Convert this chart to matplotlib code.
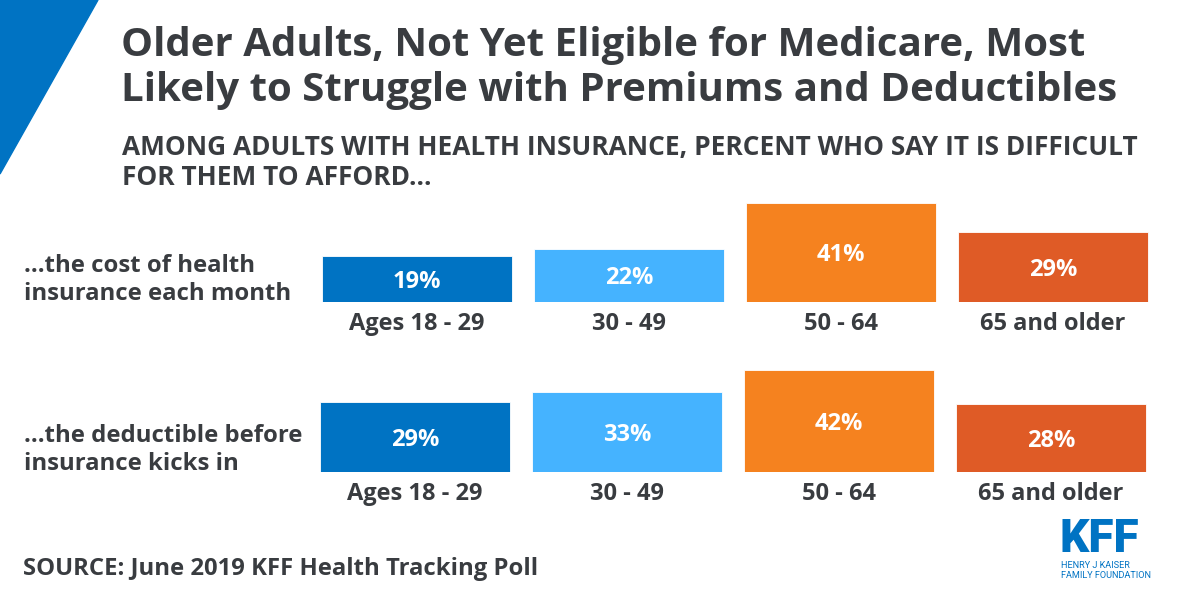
import matplotlib.pyplot as plt
from matplotlib.patches import Polygon

plt.rcParams['font.family'] = ['Open Sans', 'DejaVu Sans']

# data
groups = ['Ages 18 - 29', '30 - 49', '50 - 64', '65 and older']
items = ['...the cost of health\ninsurance each month',
         '...the deductible before\ninsurance kicks in']
monthly_cost = [19, 22, 41, 29]
deductible = [29, 33, 42, 28]
colors = ['#0073c3', '#45b3ff', '#f5821f', '#df5b26']
dark = '#393c40'

W, H = 1200, 601
fig = plt.figure(figsize=(12, 6.01), dpi=100)


def fx(px):
    return px / W


def fy(py):
    return 1 - py / H


# blue corner triangle
bg = fig.add_axes([0, 0, 1, 1])
bg.set_xlim(0, W)
bg.set_ylim(H, 0)
bg.axis('off')
bg.add_patch(Polygon([(0, 0), (98, 0), (0, 174)], closed=True, color='#0073c3'))

# title / subtitle
fig.text(fx(121), fy(56), 'Older Adults, Not Yet Eligible for Medicare, Most',
         fontsize=29, fontweight='bold', color=dark, va='baseline')
fig.text(fx(121), fy(101), 'Likely to Struggle with Premiums and Deductibles',
         fontsize=29, fontweight='bold', color=dark, va='baseline')
fig.text(fx(122), fy(155), 'AMONG ADULTS WITH HEALTH INSURANCE, PERCENT WHO SAY IT IS DIFFICULT',
         fontsize=18.9, fontweight='bold', color=dark, va='baseline')
fig.text(fx(122), fy(185), 'FOR THEM TO AFFORD...',
         fontsize=18.9, fontweight='bold', color=dark, va='baseline')

# bar rows
rows = [(monthly_cost, 302, 311, 272), (deductible, 472, 309, 442)]
px_per_pct = 2.42
slot = 212
ymax = 50
for (vals, bottom, left, lab_base), item in zip(rows, items):
    hpx = px_per_pct * ymax
    ax = fig.add_axes([fx(left), fy(bottom), fx(slot * 4), hpx / H])
    xs = [i + 0.5 for i in range(len(vals))]
    ax.bar(xs, vals, width=0.9, color=colors, edgecolor='white', linewidth=0.6)
    ax.set_xlim(0, 4)
    ax.set_ylim(0, ymax)
    ax.axis('off')
    for x, v in zip(xs, vals):
        ax.text(x, v / 2 - 1.2, f'{v}%', ha='center', va='center',
                color='white', fontsize=17, fontweight='bold')
    for x, g in zip(xs, groups):
        ax.annotate(g, (x, 0), xytext=(0, -28), textcoords='offset pixels',
                    ha='center', va='baseline', fontsize=17,
                    fontweight='bold', color=dark)
    lines = item.split('\n')
    fig.text(fx(24), fy(lab_base), lines[0], fontsize=17.2,
             fontweight='bold', color=dark, va='baseline')
    fig.text(fx(24), fy(lab_base + 28), lines[1], fontsize=17.2,
             fontweight='bold', color=dark, va='baseline')

# source
fig.text(fx(23), fy(575), 'SOURCE: June 2019 KFF Health Tracking Poll',
         fontsize=17.2, fontweight='bold', color=dark, va='baseline')

# logo
fig.text(fx(1059), fy(552), 'KFF', fontsize=33, fontweight='heavy',
         color='#0073c3', va='baseline', family='Roboto', stretch='condensed')
fig.text(fx(1061), fy(568), 'HENRY J KAISER', fontsize=6.6,
         color='#0073c3', va='baseline', family='Roboto')
fig.text(fx(1061), fy(578), 'FAMILY FOUNDATION', fontsize=6.6,
         color='#0073c3', va='baseline', family='Roboto')

fig.savefig('out.png', dpi=100)
